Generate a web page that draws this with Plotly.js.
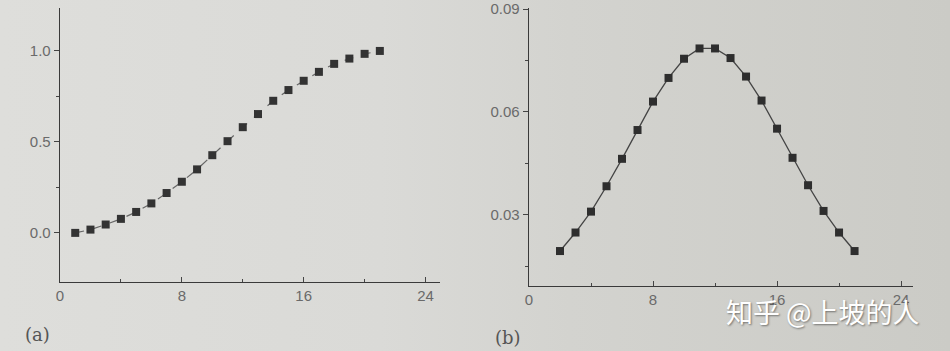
<!DOCTYPE html>
<html>
<head>
<meta charset="utf-8">
<script src="https://cdn.plot.ly/plotly-3.0.1.min.js"></script>
<style>
html,body{margin:0;padding:0;}
body{width:950px;height:351px;overflow:hidden;
background:linear-gradient(90deg,#dededb 0%,#dadad7 40%,#d3d3cf 60%,#cbcbc6 100%);}
#chart{width:950px;height:351px;}
</style>
</head>
<body>
<div id="chart"></div>
<script>
// (a) cumulative curve
const xA = [1,2,3,4,5,6,7,8,9,10,11,12,13,14,15,16,17,18,19,20,21];
const yA = [0.0,0.018,0.046,0.077,0.115,0.162,0.219,0.281,0.349,0.427,0.504,0.581,0.653,0.726,0.785,0.836,0.885,0.929,0.958,0.984,1.0];
// (b) increments
const xB = [2,3,4,5,6,7,8,9,10,11,12,13,14,15,16,17,18,19,20,21];
const yB = [0.0194,0.0248,0.0309,0.0383,0.0463,0.0547,0.0630,0.0699,0.0755,0.0785,0.0785,0.0757,0.0703,0.0633,0.0551,0.0466,0.0386,0.0311,0.0248,0.0194];

const xTicks = [0,8,16,24];
const xMinor = [4,12,20];
const yATicks = [0,0.5,1.0];
const yATickText = ['0.0','0.5','1.0'];
const yAMinor = [0.25,0.75];
const yBTicks = [0.03,0.06,0.09];
const yBTickText = ['0.03','0.06','0.09'];
const yBMinor = [0.015,0.045,0.075];

const W = 950, H = 351;
const tickFont = {family:'Liberation Sans, Arial, sans-serif', size:15, color:'#6a6a6a'};

const traces = [
  {x:xA, y:yA, xaxis:'x', yaxis:'y', mode:'lines+markers', type:'scatter',
   line:{color:'#666', width:1.2, dash:'dash'},
   marker:{symbol:'square', size:8, color:'#333'}},
  {x:xB, y:yB, xaxis:'x2', yaxis:'y2', mode:'lines+markers', type:'scatter',
   line:{color:'#444', width:1.3},
   marker:{symbol:'square', size:8, color:'#2e2e2e'}}
];

function xax(domain, range){
  return {domain:domain, range:range, tickvals:xTicks, ticktext:xTicks.map(String),
    ticks:'inside', ticklen:5, tickcolor:'#444', showline:true, linecolor:'#3a3a3a', linewidth:1.3,
    showgrid:false, zeroline:false, tickfont:tickFont, fixedrange:true,
    minor:{tickvals:xMinor, ticks:'inside', ticklen:3, tickcolor:'#444'}};
}
function yax(domain, range, tv, tt, mv, anchor){
  return {domain:domain, range:range, tickvals:tv, ticktext:tt, anchor:anchor,
    ticks:'outside', ticklen:5, tickcolor:'#444', showline:true, linecolor:'#3a3a3a', linewidth:1.3,
    showgrid:false, zeroline:false, tickfont:tickFont, fixedrange:true,
    minor:{tickvals:mv, ticks:'outside', ticklen:3, tickcolor:'#444'}};
}

const layout = {
  width:W, height:H, margin:{l:0,r:0,t:0,b:0},
  paper_bgcolor:'rgba(0,0,0,0)', plot_bgcolor:'rgba(0,0,0,0)',
  showlegend:false,
  xaxis: Object.assign(xax([60/W, 440/W],[0,24.95]), {anchor:'y'}),
  yaxis: yax([69/H, 343/H],[-0.27,1.236], yATicks, yATickText, yAMinor, 'x'),
  xaxis2: Object.assign(xax([529/W, 913/W],[0,24.77]), {anchor:'y2'}),
  yaxis2: yax([65/H, 343/H],[0.0092,0.0903], yBTicks, yBTickText, yBMinor, 'x2'),
  annotations:[
    {text:'(a)', xref:'paper', yref:'paper', x:37/W, y:(H-334)/H, showarrow:false,
     xanchor:'center', yanchor:'middle',
     font:{family:'DejaVu Serif, serif', size:18, color:'#555'}},
    {text:'(b)', xref:'paper', yref:'paper', x:508/W, y:(H-337)/H, showarrow:false,
     xanchor:'center', yanchor:'middle',
     font:{family:'DejaVu Serif, serif', size:18, color:'#555'}},
    {text:'知乎 @上坡的人', xref:'paper', yref:'paper', x:823/W, y:(H-311)/H, showarrow:false,
     xanchor:'center', yanchor:'middle',
     font:{family:'Noto Sans CJK SC, sans-serif', size:27, color:'#ffffff',
       shadow:'1px 1px 2px rgba(0,0,0,0.45)'}}
  ]
};

Plotly.newPlot('chart', traces, layout, {staticPlot:true, displayModeBar:false});
</script>
</body>
</html>
